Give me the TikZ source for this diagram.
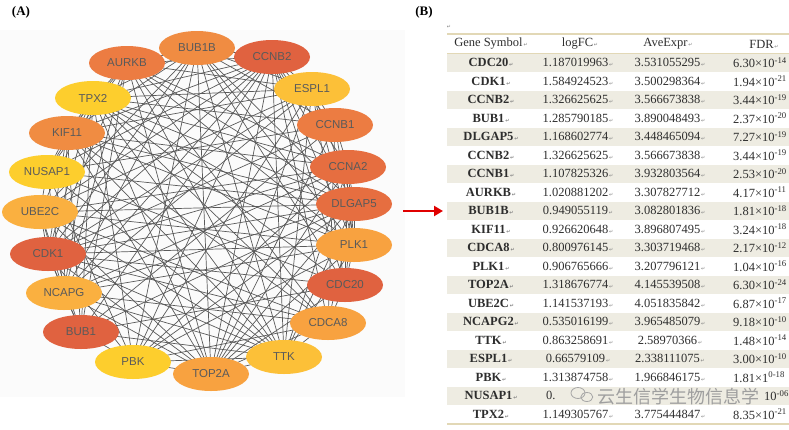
\documentclass[tikz,border=0pt]{standalone}
\usepackage{fontspec}
\setmainfont{Liberation Serif}
\newfontfamily\netfont{Liberation Sans}
\newfontfamily\markfont{DejaVu Sans}
\newfontfamily\cjkfont{Noto Sans CJK SC}
\usetikzlibrary{shapes.geometric, arrows.meta, positioning, backgrounds}
\definecolor{genedark}{RGB}{224, 98, 64}
\definecolor{genered}{RGB}{230, 110, 64}
\definecolor{geneorange}{RGB}{236, 124, 66}
\definecolor{genemid}{RGB}{240, 140, 66}
\definecolor{genelight}{RGB}{248, 162, 64}
\definecolor{genepale}{RGB}{250, 176, 64}
\definecolor{geneamber}{RGB}{252, 192, 56}
\definecolor{geneyellow}{RGB}{253, 206, 45}
\definecolor{netgray}{RGB}{90, 90, 90}
\definecolor{edgegray}{RGB}{90, 90, 90}
\definecolor{panelbg}{RGB}{251, 251, 251}
\definecolor{tabshade}{RGB}{238, 236, 226}
\definecolor{tabline}{RGB}{226, 216, 182}
\definecolor{tabtext}{RGB}{45, 45, 45}
\tikzstyle{genenode} = [ellipse, minimum width=76pt, minimum height=34pt, inner sep=0pt, text=netgray, font=\netfont\fontsize{11.5}{12}\selectfont]
\tikzstyle{edge} = [draw=edgegray, line width=0.7pt]
\tikzstyle{cell} = [inner sep=0pt, text=tabtext, font=\fontsize{12.5}{14}\selectfont]
\tikzstyle{namecell} = [cell, font=\bfseries\fontsize{12.5}{14}\selectfont]
\tikzstyle{rowshade} = [fill=tabshade, draw=none]
\tikzstyle{rule} = [draw=tabline, line width=1.3pt]
\tikzstyle{panellabel} = [inner sep=0pt, font=\bfseries\fontsize{13}{15}\selectfont]
\tikzstyle{arrow} = [line width=2.2pt, draw=red!88!black, -{Triangle[length=9pt,width=10pt]}]
\newcommand{\cellmark}{{\markfont\fontsize{5}{5}\selectfont\color{gray}\,↵}}

\begin{document}
\begin{tikzpicture}[x=1pt, y=-1pt]
    \useasboundingbox (0,0) rectangle (789,429);
    \clip (0,0) rectangle (789,429);

    % panel labels
    \node[panellabel] (labA) at (21,12) {(A)};
    \node[panellabel] (labB) at (424,12) {(B)};

    % network
    \node[genenode, fill=genemid] (bub1b) at (197,48) {BUB1B};
    \node[genenode, fill=genedark] (ccnb2) at (272,57) {CCNB2};
    \node[genenode, fill=geneorange] (aurkb) at (127,63) {AURKB};
    \node[genenode, fill=geneamber] (espl1) at (312,89) {ESPL1};
    \node[genenode, fill=geneyellow] (tpx2) at (93,98) {TPX2};
    \node[genenode, fill=geneorange] (ccnb1) at (335,125) {CCNB1};
    \node[genenode, fill=genemid] (kif11) at (67,133) {KIF11};
    \node[genenode, fill=genered] (ccna2) at (348,167) {CCNA2};
    \node[genenode, fill=geneyellow] (nusap1) at (47,172) {NUSAP1};
    \node[genenode, fill=genered] (dlgap5) at (354,204) {DLGAP5};
    \node[genenode, fill=genepale] (ube2c) at (40,212) {UBE2C};
    \node[genenode, fill=genelight] (plk1) at (354,245) {PLK1};
    \node[genenode, fill=genedark] (cdk1) at (48,254) {CDK1};
    \node[genenode, fill=genedark] (cdc20) at (345,285) {CDC20};
    \node[genenode, fill=genepale] (ncapg) at (64,293) {NCAPG};
    \node[genenode, fill=genelight] (cdca8) at (328,323) {CDCA8};
    \node[genenode, fill=genedark] (bub1) at (81,332) {BUB1};
    \node[genenode, fill=geneamber] (ttk) at (284,357) {TTK};
    \node[genenode, fill=geneyellow] (pbk) at (133,362) {PBK};
    \node[genenode, fill=genelight] (top2a) at (211,374) {TOP2A};

    \begin{pgfonlayer}{background}
        \fill[panelbg] (0,30) rectangle (405,397);
        \foreach \a [count=\i] in {bub1b,ccnb2,espl1,ccnb1,ccna2,dlgap5,plk1,cdc20,cdca8,ttk,top2a,pbk,bub1,ncapg,cdk1,ube2c,nusap1,kif11,tpx2,aurkb}
            \foreach \b [count=\j] in {bub1b,ccnb2,espl1,ccnb1,ccna2,dlgap5,plk1,cdc20,cdca8,ttk,top2a,pbk,bub1,ncapg,cdk1,ube2c,nusap1,kif11,tpx2,aurkb}
                {\ifnum\j>\i
                    \pgfmathtruncatemacro\keep{mod(\i*\j+\i+2*\j,4)}
                    \ifnum\keep>0 \draw[edge] (\a.center) -- (\b.center); \fi
                 \fi}
    \end{pgfonlayer}

    % arrow
    \coordinate (arrowstart) at (403,211);
    \coordinate (arrowend) at (443,211);
    \draw[arrow] (arrowstart) -- (arrowend);

    % table
    \foreach \r in {0,2,...,18}
        \fill[rowshade] (447,{53.5+18.5*\r}) rectangle (789,{72+18.5*\r});
    \draw[rule] (447,34) -- (789,34);
    \draw[draw=tabline, line width=0.6pt] (447,53.5) -- (789,53.5);
    \draw[rule] (447,424) -- (789,424);
    \node[cell, text=gray, font=\markfont\fontsize{5}{5}\selectfont] (topmark) at (449,27) {↵};

    \node[cell] (hgene) at (491,44) {Gene Symbol\cellmark};
    \node[cell] (hlogfc) at (580,44) {logFC\cellmark};
    \node[cell] (have) at (668,44) {AveExpr\cellmark};
    \node[cell] (hfdr) at (764,44) {FDR\cellmark};

    \foreach \r/\g/\lfc/\ave/\man/\base/\ex in {
        0/CDC20/1.187019963/3.531055295/6.30/10/-14,
        1/CDK1/1.584924523/3.500298364/1.94/10/-21,
        2/CCNB2/1.326625625/3.566673838/3.44/10/-19,
        3/BUB1/1.285790185/3.890048493/2.37/10/-20,
        4/DLGAP5/1.168602774/3.448465094/7.27/10/-19,
        5/CCNB2/1.326625625/3.566673838/3.44/10/-19,
        6/CCNB1/1.107825326/3.932803564/2.53/10/-20,
        7/AURKB/1.020881202/3.307827712/4.17/10/-11,
        8/BUB1B/0.949055119/3.082801836/1.81/10/-18,
        9/KIF11/0.926620648/3.896807495/3.24/10/-18,
        10/CDCA8/0.800976145/3.303719468/2.17/10/-12,
        11/PLK1/0.906765666/3.207796121/1.04/10/-16,
        12/TOP2A/1.318676774/4.145539508/6.30/10/-24,
        13/UBE2C/1.141537193/4.051835842/6.87/10/-17,
        14/NCAPG2/0.535016199/3.965485079/9.18/10/-10,
        15/TTK/0.863258691/2.58970366/1.48/10/-14,
        16/ESPL1/0.66579109/2.338111075/3.00/10/-10,
        17/PBK/1.313874758/1.966846175/1.81/1/0-18,
        19/TPX2/1.149305767/3.775444847/8.35/10/-21} {
        \node[namecell] (gene\r) at (491,{62.75+18.5*\r}) {\g\cellmark};
        \node[cell] (logfc\r) at (578,{62.75+18.5*\r}) {\lfc\cellmark};
        \node[cell] (ave\r) at (670,{62.75+18.5*\r}) {\ave\cellmark};
        \node[cell, anchor=west] (fdr\r) at (733,{62.75+18.5*\r}) {\man\texttimes\base\textsuperscript{\ex}};
    }
    \node[namecell] (gene18) at (491,395.75) {NUSAP1\cellmark};
    \node[cell, anchor=west] (logfc18) at (546,395.75) {0.};
    \node[cell, anchor=west] (fdr18) at (764,395.75) {10\textsuperscript{-06}};

    % watermark
    \node[draw=gray!70, line width=0.8pt, ellipse, minimum width=14pt, minimum height=11pt, inner sep=0pt] (wechat1) at (578,393) {};
    \node[draw=gray!70, line width=0.8pt, ellipse, minimum width=12pt, minimum height=9pt, inner sep=0pt, right=-5pt of wechat1, yshift=-4pt] (wechat2) {};
    \node[inner sep=0pt, text=gray!75, font=\cjkfont\fontsize{18}{20}\selectfont, anchor=west] (wmark) at (597,397) {云生信学生物信息学};
\end{tikzpicture}
\end{document}
